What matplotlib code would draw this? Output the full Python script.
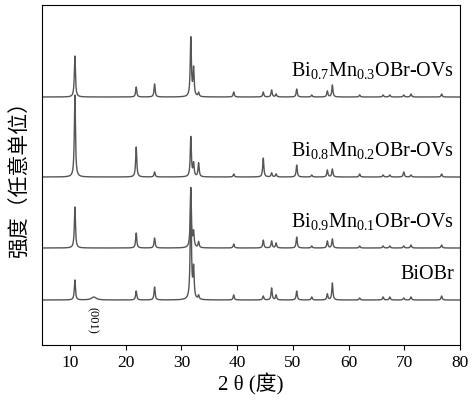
import numpy as np
import matplotlib
matplotlib.use('Agg')
import matplotlib.pyplot as plt

# peak positions (2theta) and heights per sample
pos = [10.9, 14.3, 21.9, 25.2, 31.7, 32.2, 33.1, 39.4, 44.7, 46.2, 47.0, 50.7, 53.4,
       56.2, 57.1, 62.0, 66.2, 67.4, 69.9, 71.2, 76.7]
h_biobr = [20, 3, 9, 13, 110, 30, 4, 5, 4, 12, 5, 9, 3, 6, 17, 2, 3, 3, 2, 3, 4]
h_mn01 = [41, 0, 15, 10, 60, 15, 6, 4, 8, 7, 5, 11, 2, 7, 9, 2, 2, 2, 2, 3, 3]
h_mn02 = [82, 0, 30, 5, 40, 13, 14, 3, 19, 4, 3, 12, 2, 7, 8, 3, 2, 2, 5, 2, 3]
h_mn03 = [41, 0, 10, 13, 59, 28, 4, 5, 5, 7, 3, 8, 2, 6, 12, 2, 2, 2, 2, 3, 3]
offsets = [45, 97, 168, 248]
labels = ['BiOBr', r'Bi$_{0.9}$Mn$_{0.1}$OBr-OVs', r'Bi$_{0.8}$Mn$_{0.2}$OBr-OVs',
          r'Bi$_{0.7}$Mn$_{0.3}$OBr-OVs']

plt.rcParams['font.family'] = ['Liberation Serif', 'Noto Sans CJK SC']
plt.rcParams['mathtext.fontset'] = 'custom'
plt.rcParams['mathtext.rm'] = 'Liberation Serif'
plt.rcParams['mathtext.it'] = 'Liberation Serif'

x = np.linspace(5, 80, 3000)


def pattern(heights):
    y = np.zeros_like(x)
    for p, h in zip(pos, heights):
        w = 0.5 if p == 14.3 else 0.12
        y += h / (1 + ((x - p) / w) ** 2)
    return y


fig = plt.figure(figsize=(4.74, 4.08), dpi=100)
ax = fig.add_axes([42 / 474, 63 / 408, 418 / 474, 340 / 408])
for off, hs, lab in zip(offsets, [h_biobr, h_mn01, h_mn02, h_mn03], labels):
    ax.plot(x, pattern(hs) + off, color='#555555', lw=1)
    ax.text(79, off + 16, lab, ha='right', va='bottom', fontsize=14.5)
ax.text(14.0, 38, '(001)', rotation=-90, ha='center', va='top', fontsize=9)

ax.set_xlim(5, 80)
ax.set_ylim(0, 340)
ax.set_xticks(range(10, 81, 10))
ax.set_yticks([])
ax.tick_params(labelsize=12.5)
ax.set_xlabel('2 θ (度)', fontsize=15, labelpad=2)
ax.set_ylabel('强度（任意单位）', fontsize=15, labelpad=8)
fig.savefig('out.png', dpi=100)
